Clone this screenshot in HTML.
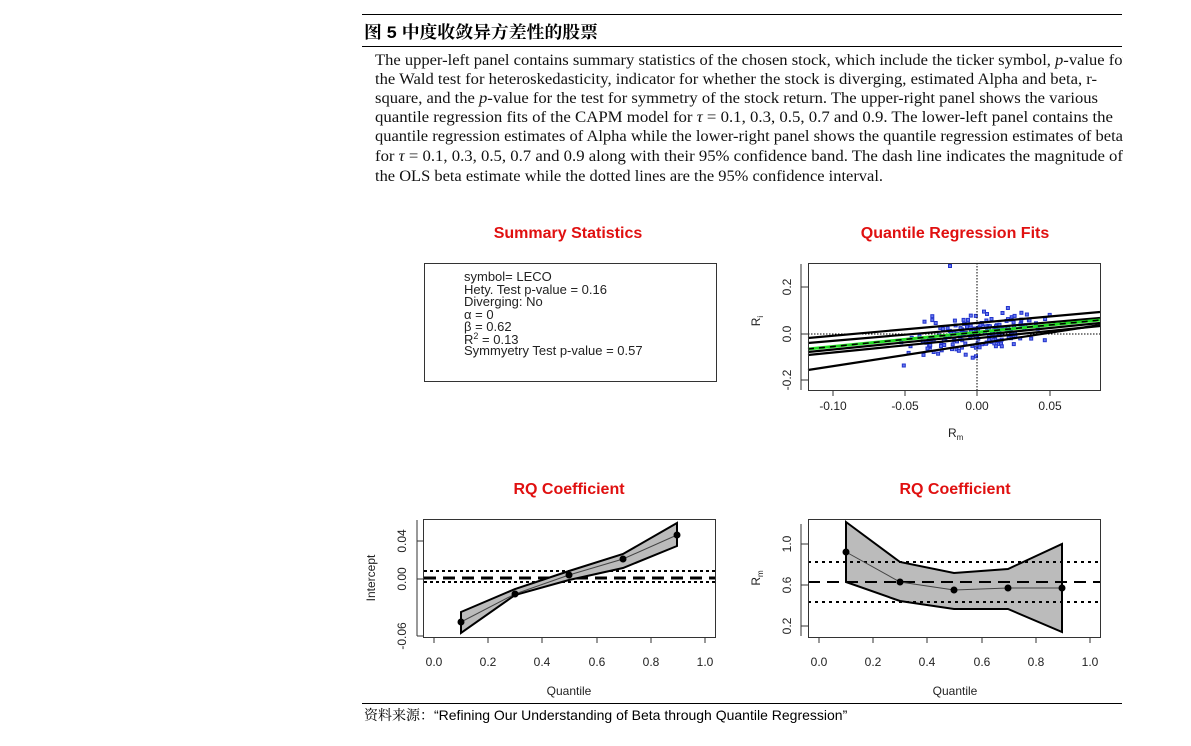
<!DOCTYPE html>
<html><head><meta charset="utf-8"><style>
body{margin:0;background:#fff;width:1191px;height:746px;overflow:hidden}
svg{display:block}
.r{font-family:"Liberation Serif",serif;font-size:15.5px;fill:#111}
.t{font-family:"Liberation Sans",sans-serif;font-size:16px;font-weight:bold;fill:#e01010}
.k{font-family:"Liberation Sans",sans-serif;font-size:12px;fill:#222}
</style></head><body>
<svg id="g" width="1191" height="746" viewBox="0 0 1191 746">
<line x1="362" y1="14.5" x2="1122" y2="14.5" stroke="#000"/>
<line x1="362" y1="46.5" x2="1122" y2="46.5" stroke="#000" stroke-width="1"/>
<text x="364" y="38" textLength="234" lengthAdjust="spacingAndGlyphs" style="font-family:'Liberation Sans','Noto Serif CJK SC',serif;font-size:17px;font-weight:bold">图 5 中度收敛异方差性的股票</text>
<g class="r">
<text x="375" y="65" textLength="753" lengthAdjust="spacingAndGlyphs">The upper-left panel contains summary statistics of the chosen stock, which include the ticker symbol, <tspan font-style="italic">p</tspan>-value for</text>
<text x="375" y="84" textLength="722" lengthAdjust="spacingAndGlyphs">the Wald test for heteroskedasticity, indicator for whether the stock is diverging, estimated Alpha and beta, r-</text>
<text x="375" y="103" textLength="723" lengthAdjust="spacingAndGlyphs">square, and the <tspan font-style="italic">p</tspan>-value for the test for symmetry of the stock return.  The upper-right panel shows the various</text>
<text x="375" y="122" textLength="738" lengthAdjust="spacingAndGlyphs">quantile regression fits of the CAPM model for  <tspan font-style="italic">τ</tspan>  = 0.1, 0.3, 0.5, 0.7 and 0.9.  The lower-left panel contains the</text>
<text x="375" y="141" textLength="748" lengthAdjust="spacingAndGlyphs">quantile regression estimates of Alpha while the lower-right panel shows the quantile regression estimates of beta</text>
<text x="375" y="161" textLength="748" lengthAdjust="spacingAndGlyphs">for  <tspan font-style="italic">τ</tspan>  = 0.1, 0.3, 0.5, 0.7 and 0.9 along with their 95% confidence band. The dash line indicates the magnitude of</text>
<text x="375" y="181" textLength="508" lengthAdjust="spacingAndGlyphs">the OLS beta estimate while the dotted lines are the 95% confidence interval.</text>
</g>
<rect x="1123" y="48" width="70" height="150" fill="#fff"/>
<text class="t" x="568" y="238" text-anchor="middle">Summary Statistics</text>
<text class="t" x="955" y="238" text-anchor="middle">Quantile Regression Fits</text>
<text class="t" x="569" y="494" text-anchor="middle">RQ Coefficient</text>
<text class="t" x="955" y="494" text-anchor="middle">RQ Coefficient</text>
<rect x="424.5" y="263.5" width="292" height="118" fill="none" stroke="#333"/>
<g class="k" style="font-size:13px">
<text x="464" y="281">symbol= LECO</text>
<text x="464" y="294">Hety. Test p-value = 0.16</text>
<text x="464" y="306">Diverging: No</text>
<text x="464" y="319">α = 0</text>
<text x="464" y="331">β = 0.62</text>
<text x="464" y="344">R<tspan dy="-5" font-size="9">2</tspan><tspan dy="5"> = 0.13</tspan></text>
<text x="464" y="355">Symmyetry Test p-value = 0.57</text>
</g>
<g id="sc"></g>
<line x1="977" y1="263" x2="977" y2="390" stroke="#000" stroke-dasharray="1.5,1.5"/>
<line x1="808" y1="334" x2="1100" y2="334" stroke="#000" stroke-dasharray="1.5,1.5"/>
<g stroke="#000" stroke-width="2.2">
<line x1="808" y1="338" x2="1100" y2="312"/>
<line x1="808" y1="343" x2="1100" y2="318"/>
<line x1="808" y1="352" x2="1100" y2="323"/>
<line x1="808" y1="355" x2="1100" y2="326"/>
<line x1="808" y1="370" x2="1100" y2="325"/>
</g>
<line x1="808" y1="349" x2="1100" y2="320" stroke="#22dd22" stroke-width="3"/>
<line x1="808" y1="349" x2="1100" y2="320" stroke="#000" stroke-width="1.5" stroke-dasharray="6,5"/>
<rect x="808.5" y="263.5" width="292" height="127" fill="none" stroke="#333"/>
<g stroke="#333"><line x1="801" y1="287" x2="808" y2="287"/><line x1="801" y1="334" x2="808" y2="334"/><line x1="801" y1="380" x2="808" y2="380"/><line x1="801" y1="264" x2="801" y2="390"/>
<line x1="833" y1="390" x2="833" y2="396"/><line x1="905" y1="390" x2="905" y2="396"/><line x1="977" y1="390" x2="977" y2="396"/><line x1="1050" y1="390" x2="1050" y2="396"/></g>
<g class="k">
<text x="833" y="410" text-anchor="middle">-0.10</text><text x="905" y="410" text-anchor="middle">-0.05</text><text x="977" y="410" text-anchor="middle">0.00</text><text x="1050" y="410" text-anchor="middle">0.05</text>
<text transform="translate(791,287) rotate(-90)" text-anchor="middle">0.2</text>
<text transform="translate(791,334) rotate(-90)" text-anchor="middle">0.0</text>
<text transform="translate(791,380) rotate(-90)" text-anchor="middle">-0.2</text>
<text transform="translate(760,321) rotate(-90)" text-anchor="middle">R<tspan font-size="8" dy="3">i</tspan></text>
<text x="948" y="437">R<tspan font-size="8" dy="3">m</tspan></text>
</g>
<line x1="424" y1="578" x2="716" y2="578" stroke="#000" stroke-width="3" stroke-dasharray="12,7"/>
<line x1="424" y1="571" x2="716" y2="571" stroke="#000" stroke-width="2" stroke-dasharray="3,3"/>
<line x1="424" y1="582" x2="716" y2="582" stroke="#000" stroke-width="2" stroke-dasharray="3,3"/>
<polygon points="461,612 515,589 569,571 623,554 677,523 677,546 623,568 569,580 515,595 461,633" fill="#bbb" stroke="#000" stroke-width="2"/>
<polyline points="461,622 515,594 569,575 623,559 677,535" fill="none" stroke="#444"/>
<g fill="#000"><circle cx="461" cy="622" r="3.5"/><circle cx="515" cy="594" r="3.5"/><circle cx="569" cy="575" r="3.5"/><circle cx="623" cy="559" r="3.5"/><circle cx="677" cy="535" r="3.5"/></g>
<rect x="423.5" y="519.5" width="292" height="118" fill="none" stroke="#333"/>
<g stroke="#333"><line x1="417" y1="541" x2="423" y2="541"/><line x1="417" y1="579" x2="423" y2="579"/><line x1="417" y1="636" x2="423" y2="636"/><line x1="417" y1="520" x2="417" y2="636"/>
<line x1="434" y1="637" x2="434" y2="643"/><line x1="488" y1="637" x2="488" y2="643"/><line x1="542" y1="637" x2="542" y2="643"/><line x1="597" y1="637" x2="597" y2="643"/><line x1="651" y1="637" x2="651" y2="643"/><line x1="705" y1="637" x2="705" y2="643"/></g>
<g class="k">
<text x="434" y="666" text-anchor="middle">0.0</text><text x="488" y="666" text-anchor="middle">0.2</text><text x="542" y="666" text-anchor="middle">0.4</text><text x="597" y="666" text-anchor="middle">0.6</text><text x="651" y="666" text-anchor="middle">0.8</text><text x="705" y="666" text-anchor="middle">1.0</text>
<text transform="translate(406,541) rotate(-90)" text-anchor="middle">0.04</text>
<text transform="translate(406,579) rotate(-90)" text-anchor="middle">0.00</text>
<text transform="translate(406,636) rotate(-90)" text-anchor="middle">-0.06</text>
<text transform="translate(375,578) rotate(-90)" text-anchor="middle">Intercept</text>
<text x="569" y="695" text-anchor="middle">Quantile</text>
</g>
<polygon points="846,522 900,562 954,573 1008,569 1062,544 1062,632 1008,609 954,609 900,601 846,582" fill="#bbb" stroke="#000" stroke-width="2"/>
<line x1="808" y1="582" x2="1100" y2="582" stroke="#000" stroke-width="2" stroke-dasharray="12,7"/>
<line x1="808" y1="562" x2="1100" y2="562" stroke="#000" stroke-width="2" stroke-dasharray="3,4"/>
<line x1="808" y1="602" x2="1100" y2="602" stroke="#000" stroke-width="2" stroke-dasharray="3,4"/>
<polyline points="846,552 900,582 954,590 1008,588 1062,588" fill="none" stroke="#444"/>
<g fill="#000"><circle cx="846" cy="552" r="3.5"/><circle cx="900" cy="582" r="3.5"/><circle cx="954" cy="590" r="3.5"/><circle cx="1008" cy="588" r="3.5"/><circle cx="1062" cy="588" r="3.5"/></g>
<rect x="808.5" y="519.5" width="292" height="118" fill="none" stroke="#333"/>
<g stroke="#333"><line x1="801" y1="544" x2="808" y2="544"/><line x1="801" y1="585" x2="808" y2="585"/><line x1="801" y1="626" x2="808" y2="626"/><line x1="801" y1="524" x2="801" y2="636"/>
<line x1="819" y1="637" x2="819" y2="643"/><line x1="873" y1="637" x2="873" y2="643"/><line x1="927" y1="637" x2="927" y2="643"/><line x1="982" y1="637" x2="982" y2="643"/><line x1="1036" y1="637" x2="1036" y2="643"/><line x1="1090" y1="637" x2="1090" y2="643"/></g>
<g class="k">
<text x="819" y="666" text-anchor="middle">0.0</text><text x="873" y="666" text-anchor="middle">0.2</text><text x="927" y="666" text-anchor="middle">0.4</text><text x="982" y="666" text-anchor="middle">0.6</text><text x="1036" y="666" text-anchor="middle">0.8</text><text x="1090" y="666" text-anchor="middle">1.0</text>
<text transform="translate(791,544) rotate(-90)" text-anchor="middle">1.0</text>
<text transform="translate(791,585) rotate(-90)" text-anchor="middle">0.6</text>
<text transform="translate(791,626) rotate(-90)" text-anchor="middle">0.2</text>
<text transform="translate(760,578) rotate(-90)" text-anchor="middle">R<tspan font-size="8" dy="3">m</tspan></text>
<text x="955" y="695" text-anchor="middle">Quantile</text>
</g>
<line x1="362" y1="703.5" x2="1122" y2="703.5" stroke="#000"/>
<text x="364" y="720" style="font-family:'Liberation Sans','Noto Serif CJK SC',serif;font-size:14px">资料来源：“Refining Our Understanding of Beta through Quantile Regression”</text>
</svg>
<script>
var g=document.getElementById('sc'),s=7,h='';
function rn(){s=(s*16807)%2147483647;return s/2147483647;}
function gs(){return (rn()+rn()+rn()-1.5)*0.9;}
for(var i=0;i<170;i++){var x=gs()*0.045;if(x<-0.112)x=-0.112;if(x>0.075)x=0.075;var y=0.6*x+gs()*0.09;var px=977+x*1450,py=334-y*233;if(py<268)py=268;if(py>386)py=386;
h+='<rect x="'+(px-1.5).toFixed(1)+'" y="'+(py-1.5).toFixed(1)+'" width="3" height="3" fill="#6677ee" stroke="#2233cc" stroke-width="1"/>';}
h+='<rect x="948.5" y="264.5" width="3" height="3" fill="#6677ee" stroke="#2233cc"/>';
g.innerHTML=h;
</script>
</body></html>
